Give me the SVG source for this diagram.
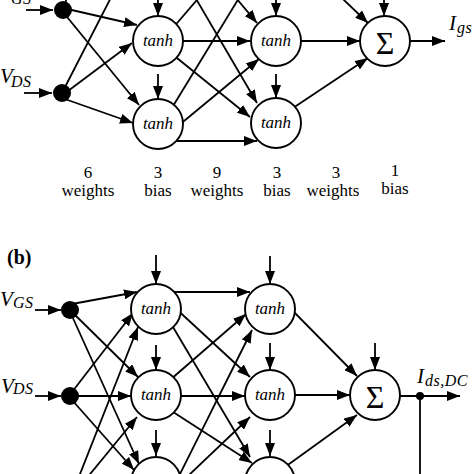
<svg xmlns="http://www.w3.org/2000/svg" width="474" height="474" viewBox="0 0 474 474">
<defs>
<marker id="ah" viewBox="0 0 13 10" markerWidth="13" markerHeight="10" refX="13" refY="5" orient="auto" markerUnits="userSpaceOnUse"><path d="M0,0L13,5L0,10z" fill="#000"/></marker>
</defs>
<style>
.c{stroke:#000;stroke-width:1.8;fill:none;marker-end:url(#ah)}
.p{stroke:#000;stroke-width:1.8;fill:none}
.n{fill:#fff;stroke:#000;stroke-width:1.9}
.in{fill:#000;stroke:none}
.t{font-family:"Liberation Serif","Times New Roman",serif;font-style:italic;font-size:17px;text-anchor:middle}
.s{font-family:"Liberation Serif","Times New Roman",serif;font-size:32px;text-anchor:middle}
.l{font-family:"Liberation Serif","Times New Roman",serif;font-size:17px;text-anchor:middle}
.m{font-family:"Liberation Serif","Times New Roman",serif;font-style:italic;font-size:21px}
.ms{font-family:"Liberation Serif","Times New Roman",serif;font-style:italic;font-size:16px;letter-spacing:0.5px}
.b{font-family:"Liberation Serif","Times New Roman",serif;font-weight:bold;font-size:20px}
</style>
<rect width="474" height="474" fill="#fff"/>
<g id="connectors">
<!-- (a) inputs -->
<line class="c" x1="26" y1="10" x2="53" y2="10"/>
<line class="c" x1="24" y1="93" x2="52" y2="93"/>
<line class="c" x1="63" y1="8" x2="137" y2="25"/>
<line class="c" x1="63" y1="12" x2="139" y2="105"/>
<line class="c" x1="64" y1="94" x2="132" y2="43"/>
<line class="c" x1="62" y1="98" x2="133" y2="123"/>
<line class="p" x1="63" y1="91" x2="121" y2="-22"/>
<line class="p" x1="64" y1="6" x2="70" y2="-10"/>
<!-- (a) layer1 -> layer2 -->
<line class="c" x1="180" y1="41" x2="250" y2="41"/>
<line class="c" x1="172" y1="54" x2="250" y2="117"/>
<line class="p" x1="172" y1="29" x2="214" y2="-20"/>
<line class="c" x1="178" y1="126" x2="259" y2="59"/>
<line class="c" x1="170" y1="141" x2="257" y2="141"/>
<line class="p" x1="170" y1="111" x2="250" y2="-20"/>
<line class="c" x1="221" y1="-20" x2="257" y2="23"/>
<line class="c" x1="185" y1="-20" x2="257" y2="103"/>
<!-- (a) layer2 -> sum -->
<line class="c" x1="301" y1="41" x2="360" y2="41"/>
<line class="c" x1="290" y1="110" x2="368" y2="58"/>
<line class="c" x1="323" y1="-20" x2="368" y2="23"/>
<line class="c" x1="410" y1="41" x2="445" y2="41"/>
<!-- (a) biases -->
<line class="c" x1="158" y1="-5" x2="158" y2="16"/>
<line class="c" x1="158" y1="74" x2="158" y2="99"/>
<line class="c" x1="276" y1="-5" x2="276" y2="16"/>
<line class="c" x1="276" y1="74" x2="276" y2="98"/>
<line class="c" x1="384" y1="-5" x2="384" y2="16"/>
<!-- (b) inputs -->
<line class="c" x1="35" y1="310" x2="61" y2="310"/>
<line class="c" x1="35" y1="396" x2="61" y2="396"/>
<line class="c" x1="72" y1="304" x2="137" y2="292"/>
<line class="c" x1="72" y1="312" x2="138" y2="377"/>
<line class="c" x1="72" y1="316" x2="139" y2="464"/>
<line class="c" x1="72" y1="392" x2="133" y2="313"/>
<line class="c" x1="72" y1="396" x2="131" y2="396"/>
<line class="c" x1="72" y1="400" x2="134" y2="470"/>
<line class="c" x1="73.7" y1="490" x2="138" y2="327"/>
<line class="c" x1="77" y1="490" x2="137" y2="417"/>
<!-- (b) layer1 -> layer2 -->
<line class="c" x1="170" y1="292" x2="250" y2="292"/>
<line class="c" x1="172" y1="305" x2="250" y2="377"/>
<line class="c" x1="170" y1="322" x2="250" y2="457"/>
<line class="c" x1="170" y1="380" x2="246" y2="314"/>
<line class="c" x1="175" y1="396" x2="245" y2="396"/>
<line class="c" x1="170" y1="410" x2="252" y2="463"/>
<line class="c" x1="176" y1="482" x2="252" y2="330"/>
<line class="c" x1="178" y1="485.5" x2="250" y2="417"/>
<!-- (b) layer2 -> sum -->
<line class="c" x1="290" y1="308" x2="357" y2="376"/>
<line class="c" x1="290" y1="395" x2="350" y2="395"/>
<line class="c" x1="285" y1="467" x2="357" y2="415"/>
<line class="c" x1="400" y1="396" x2="460" y2="396"/>
<line class="p" x1="420" y1="396" x2="420" y2="480"/>
<!-- (b) biases -->
<line class="c" x1="156" y1="255" x2="156" y2="284"/>
<line class="c" x1="156" y1="345" x2="156" y2="370"/>
<line class="c" x1="156" y1="430" x2="156" y2="456"/>
<line class="c" x1="270" y1="256" x2="270" y2="284"/>
<line class="c" x1="270" y1="343" x2="270" y2="370"/>
<line class="c" x1="270" y1="430" x2="270" y2="456"/>
<line class="c" x1="375" y1="343" x2="375" y2="370"/>
</g>
<!-- (a) nodes -->
<g id="a_in_vgs"><circle class="in" cx="63" cy="10" r="9"/></g>
<g id="a_in_vds"><circle class="in" cx="62" cy="93" r="9"/></g>
<g id="a_h1_1"><circle class="n" cx="158" cy="41" r="25"/><text class="t" x="158" y="45.5">tanh</text></g>
<g id="a_h1_2"><circle class="n" cx="158" cy="124" r="25"/><text class="t" x="158" y="128.5">tanh</text></g>
<g id="a_h2_1"><circle class="n" cx="276" cy="41" r="25"/><text class="t" x="276" y="45.5">tanh</text></g>
<g id="a_h2_2"><circle class="n" cx="276" cy="123" r="25"/><text class="t" x="276" y="127.5">tanh</text></g>
<g id="a_sum"><circle class="n" cx="385" cy="41" r="25"/><text class="s" x="385" y="54">Σ</text></g>
<!-- (b) nodes -->
<g id="b_in_vgs"><circle class="in" cx="70" cy="310" r="9"/></g>
<g id="b_in_vds"><circle class="in" cx="70" cy="396" r="9"/></g>
<g id="b_h1_1"><circle class="n" cx="156" cy="309" r="25"/><text class="t" x="156" y="314">tanh</text></g>
<g id="b_h1_2"><circle class="n" cx="156" cy="395" r="25"/><text class="t" x="156" y="400">tanh</text></g>
<g id="b_h1_3"><circle class="n" cx="156" cy="482" r="25"/></g>
<g id="b_h2_1"><circle class="n" cx="270" cy="309" r="25"/><text class="t" x="270" y="314">tanh</text></g>
<g id="b_h2_2"><circle class="n" cx="270" cy="395" r="25"/><text class="t" x="270" y="400">tanh</text></g>
<g id="b_h2_3"><circle class="n" cx="270" cy="482" r="25"/></g>
<g id="b_sum"><circle class="n" cx="375" cy="395" r="25"/><text class="s" x="375" y="408">Σ</text></g>
<g id="b_junction"><circle class="in" cx="420" cy="396" r="4"/></g>
<!-- labels -->
<g id="labels">
<text class="m" x="-1" y="0">V</text><text class="ms" x="11" y="4">GS</text>
<text class="m" x="0" y="83">V</text><text class="ms" x="11" y="87">DS</text>
<text class="m" x="449" y="30">I</text><text class="ms" x="457" y="33">gs</text>
<text class="l" x="88" y="178">6</text><text class="l" x="88" y="196">weights</text>
<text class="l" x="158" y="178">3</text><text class="l" x="158" y="196">bias</text>
<text class="l" x="217" y="178">9</text><text class="l" x="217" y="196">weights</text>
<text class="l" x="277" y="178">3</text><text class="l" x="277" y="196">bias</text>
<text class="l" x="336" y="178">3</text><text class="l" x="333" y="196">weights</text>
<text class="l" x="395" y="176">1</text><text class="l" x="395" y="194">bias</text>
<text class="b" x="7" y="264">(b)</text>
<text class="m" x="0" y="306">V</text><text class="ms" x="13" y="308">GS</text>
<text class="m" x="1" y="393">V</text><text class="ms" x="13" y="394">DS</text>
<text class="m" x="417" y="383">I</text><text class="ms" x="425" y="386">ds,DC</text>
</g>
</svg>
